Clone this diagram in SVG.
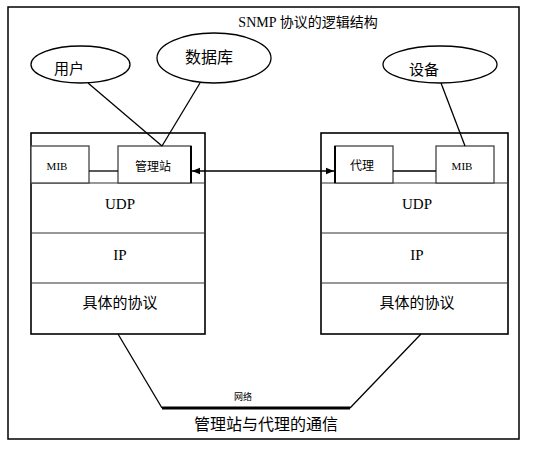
<svg xmlns="http://www.w3.org/2000/svg" width="535" height="450" viewBox="0 0 535 450">
<defs>
<style>
.frame{fill:none;stroke:#000;stroke-width:1.5}
.box{fill:#fff;stroke:#000;stroke-width:1.6}
.row{fill:none;stroke:#333;stroke-width:1.2}
.sub{fill:#fff;stroke:#444;stroke-width:1.3}
.ell{fill:#fff;stroke:#000;stroke-width:1.3}
.ln{fill:none;stroke:#000;stroke-width:1.3}
.serif{font-family:"Liberation Serif","Noto Sans CJK SC",serif;fill:#000}
.cjk{font-family:"Noto Sans CJK SC","Liberation Sans",sans-serif;fill:#000}
</style>
<marker id="ah" viewBox="0 0 10 10" refX="10" refY="5" markerWidth="8" markerHeight="8" orient="auto-start-reverse" markerUnits="userSpaceOnUse">
<path d="M0,1 L10,5 L0,9 z" fill="#000"/>
</marker>
</defs>
<rect x="0" y="0" width="535" height="450" fill="#fff"/>
<rect class="frame" x="8" y="7" width="511" height="432"/>
<text class="cjk" x="308" y="27" font-size="14" text-anchor="middle"><tspan class="serif">SNMP</tspan> 协议的逻辑结构</text>

<g id="user">
<ellipse class="ell" cx="80.5" cy="64.5" rx="49.5" ry="18.5"/>
<text class="cjk" x="69" y="74" font-size="15" text-anchor="middle">用户</text>
</g>
<g id="database">
<ellipse class="ell" cx="214" cy="58" rx="57" ry="25"/>
<text class="cjk" x="209" y="63" font-size="16" text-anchor="middle">数据库</text>
</g>
<g id="device">
<ellipse class="ell" cx="440" cy="64.5" rx="57" ry="18.5"/>
<text class="cjk" x="424" y="75" font-size="15" text-anchor="middle">设备</text>
</g>

<g id="manager-stack">
<rect class="box" x="31" y="133" width="174" height="201"/>
<line class="row" x1="31" y1="183" x2="205" y2="183"/>
<line class="row" x1="31" y1="233" x2="205" y2="233"/>
<line class="row" x1="31" y1="283" x2="205" y2="283"/>
<text class="serif" x="120" y="209" font-size="15" text-anchor="middle">UDP</text>
<text class="serif" x="120" y="260" font-size="15" text-anchor="middle">IP</text>
<text class="cjk" x="120" y="308" font-size="15" text-anchor="middle">具体的协议</text>
</g>
<g id="mib-left">
<rect class="sub" x="31" y="146" width="58" height="37"/>
<text class="serif" x="57" y="170" font-size="11" text-anchor="middle">MIB</text>
</g>
<g id="manager">
<rect class="sub" x="118" y="146" width="73" height="37"/>
<line x1="191" y1="146" x2="191" y2="183" stroke="#000" stroke-width="2"/>
<text class="cjk" x="153" y="171" font-size="12" text-anchor="middle">管理站</text>
</g>

<g id="agent-stack">
<rect class="box" x="321" y="133" width="187" height="201"/>
<line class="row" x1="321" y1="183" x2="508" y2="183"/>
<line class="row" x1="321" y1="233" x2="508" y2="233"/>
<line class="row" x1="321" y1="283" x2="508" y2="283"/>
<text class="serif" x="417" y="209" font-size="15" text-anchor="middle">UDP</text>
<text class="serif" x="417" y="260" font-size="15" text-anchor="middle">IP</text>
<text class="cjk" x="417" y="308" font-size="15" text-anchor="middle">具体的协议</text>
</g>
<g id="agent">
<rect class="sub" x="335" y="146" width="58" height="37"/>
<line x1="335" y1="146" x2="335" y2="183" stroke="#000" stroke-width="2"/>
<text class="cjk" x="362" y="170" font-size="12" text-anchor="middle">代理</text>
</g>
<g id="mib-right">
<rect class="sub" x="436" y="146" width="58" height="37"/>
<text class="serif" x="462" y="170" font-size="11" text-anchor="middle">MIB</text>
</g>

<g id="connectors">
<line class="ln" x1="88" y1="83" x2="162" y2="146"/>
<line class="ln" x1="200" y1="83" x2="162" y2="146"/>
<line class="ln" x1="441" y1="83" x2="465" y2="146"/>
<line class="ln" x1="89" y1="171" x2="118" y2="171"/>
<line class="ln" x1="393" y1="171" x2="436" y2="171"/>
<line class="ln" x1="192" y1="171" x2="334" y2="171" stroke-width="1.6" marker-start="url(#ah)" marker-end="url(#ah)"/>
<polyline class="ln" points="118,334 162,408"/>
<polyline class="ln" points="421,334 350,408"/>
<line x1="162" y1="408" x2="350" y2="408" stroke="#000" stroke-width="3"/>
<text class="cjk" x="243" y="400" font-size="9" text-anchor="middle" fill="#333">网络</text>
<text class="cjk" x="266" y="430" font-size="16" text-anchor="middle">管理站与代理的通信</text>
</g>
</svg>
